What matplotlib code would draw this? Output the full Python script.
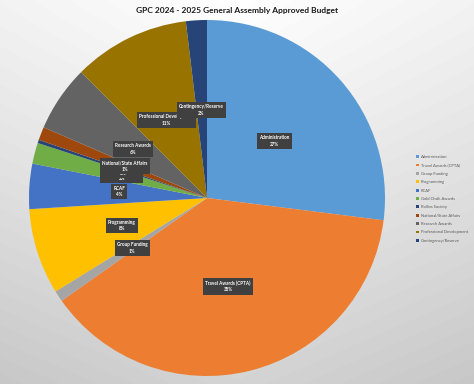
import matplotlib.pyplot as plt
import numpy as np

plt.rcParams['font.family'] = ['Lato', 'DejaVu Sans']

categories = ["Administration", "Travel Awards (CPTA)", "Group Funding", "Programming",
              "RCAF", "Gold Chalk Awards", "Rollins Society", "National/State Affairs",
              "Research Awards", "Professional Development", "Contingency/Reserve"]
shares = [27.0, 38.2, 1.0, 7.8, 4.1, 1.9, 0.3, 1.2, 6.0, 10.6, 1.9]
colors = ["#5B9BD5", "#ED7D31", "#A5A5A5", "#FFC000", "#4472C4", "#70AD47",
          "#264478", "#9E480E", "#636363", "#997300", "#264478"]

# label box centres, in pie units (radius = 1)
label_xy = [(0.379, 0.320), (0.118, -0.497), (-0.419, -0.281), (-0.478, -0.154),
            (-0.494, 0.037), (-0.480, 0.129), (-0.472, 0.154), (-0.461, 0.180),
            (-0.416, 0.275), (-0.228, 0.438), (-0.031, 0.494)]

W, H = 474, 384
fig = plt.figure(figsize=(W / 100, H / 100), dpi=100)

# soft grey background: white at the top, grey towards the bottom
bg = fig.add_axes([0, 0, 1, 1])
yy, xx = np.mgrid[0:H, 0:W]
shade = 1.0 - 0.17 * (yy / H) ** 1.1 - 0.05 * np.abs(xx - 237) / 237
bg.imshow(shade, cmap="gray", vmin=0, vmax=1, aspect="auto", extent=[0, 1, 0, 1])
bg.axis("off")

fig.text(237 / W, 1 - 10 / H, "GPC 2024 - 2025 General Assembly Approved Budget",
         ha="center", va="center", fontsize=6.0, fontweight="bold", color="#1a1a1a")

R = 178
ax = fig.add_axes([(207 - R) / W, (H - 198 - R) / H, 2 * R / W, 2 * R / H])
wedges, _ = ax.pie(shares, colors=colors, startangle=90, counterclock=False,
                   radius=1, wedgeprops=dict(linewidth=0))
ax.set_xlim(-1, 1)
ax.set_ylim(-1, 1)
ax.axis("off")

for cat, val, (lx, ly) in zip(categories, shares, label_xy):
    ax.text(lx, ly, f"{cat}\n{round(val)}%", ha="center", va="center",
            fontsize=3.3, fontweight="bold", color="white", linespacing=1.4,
            bbox=dict(boxstyle="square,pad=0.45", fc="#404040", ec="none"))

fig.legend(wedges, categories, loc="upper left", bbox_to_anchor=(414 / W, 1 - 153 / H),
           frameon=False, fontsize=3.0, labelcolor="#595959", handlelength=0.7,
           handleheight=0.7, handletextpad=0.4, labelspacing=1.05, borderpad=0)

fig.savefig("out.png", dpi=100)
